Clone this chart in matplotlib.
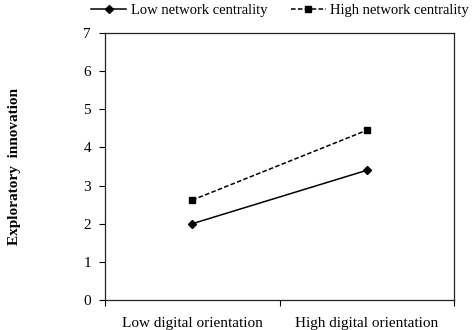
import numpy as np
import matplotlib.pyplot as plt

plt.rcParams['font.family'] = ['Liberation Serif', 'DejaVu Serif']

categories = ["Low digital orientation", "High digital orientation"]
low_centrality = [2.0, 3.4]
high_centrality = [2.62, 4.45]

fig = plt.figure(figsize=(4.74, 3.3), dpi=100)
ax = fig.add_axes([105/474, 30/330, 349/474, 267/330])

x = np.arange(len(categories)) + 0.5
ax.plot(x, low_centrality, color="black", lw=1.1, marker="D", ms=4,
        label="Low network centrality")
ax.plot(x, high_centrality, color="black", lw=1.1, ls=(0, (3, 1.5)), marker="s", ms=5,
        label="High network centrality")

ax.set_xlim(0, 2)
ax.set_ylim(0, 7)
ax.set_xticks([0, 1, 2])
ax.set_xticklabels([])
ax.set_xticks(x, minor=True)
ax.set_xticklabels(categories, minor=True, fontsize=11)
ax.tick_params(axis="x", which="minor", length=0, pad=12)
ax.tick_params(axis="x", which="major", length=4, direction="out")
ax.set_yticks(range(8))
ax.tick_params(axis="y", labelsize=11, length=4, direction="out", pad=6)
for s in ax.spines.values():
    s.set_color("#222222")
    s.set_linewidth(0.9)

ax.set_ylabel("Exploratory  innovation", fontsize=11, fontweight="bold")
ax.yaxis.set_label_coords(-84/349, 0.5)

fig.legend(loc="center", bbox_to_anchor=(280/474, 1 - 10/330), ncol=2, frameon=False,
           fontsize=10.5, handlelength=2.4, handletextpad=0.3, columnspacing=1.6,
           borderaxespad=0, borderpad=0)

fig.savefig("out.png", dpi=100)
